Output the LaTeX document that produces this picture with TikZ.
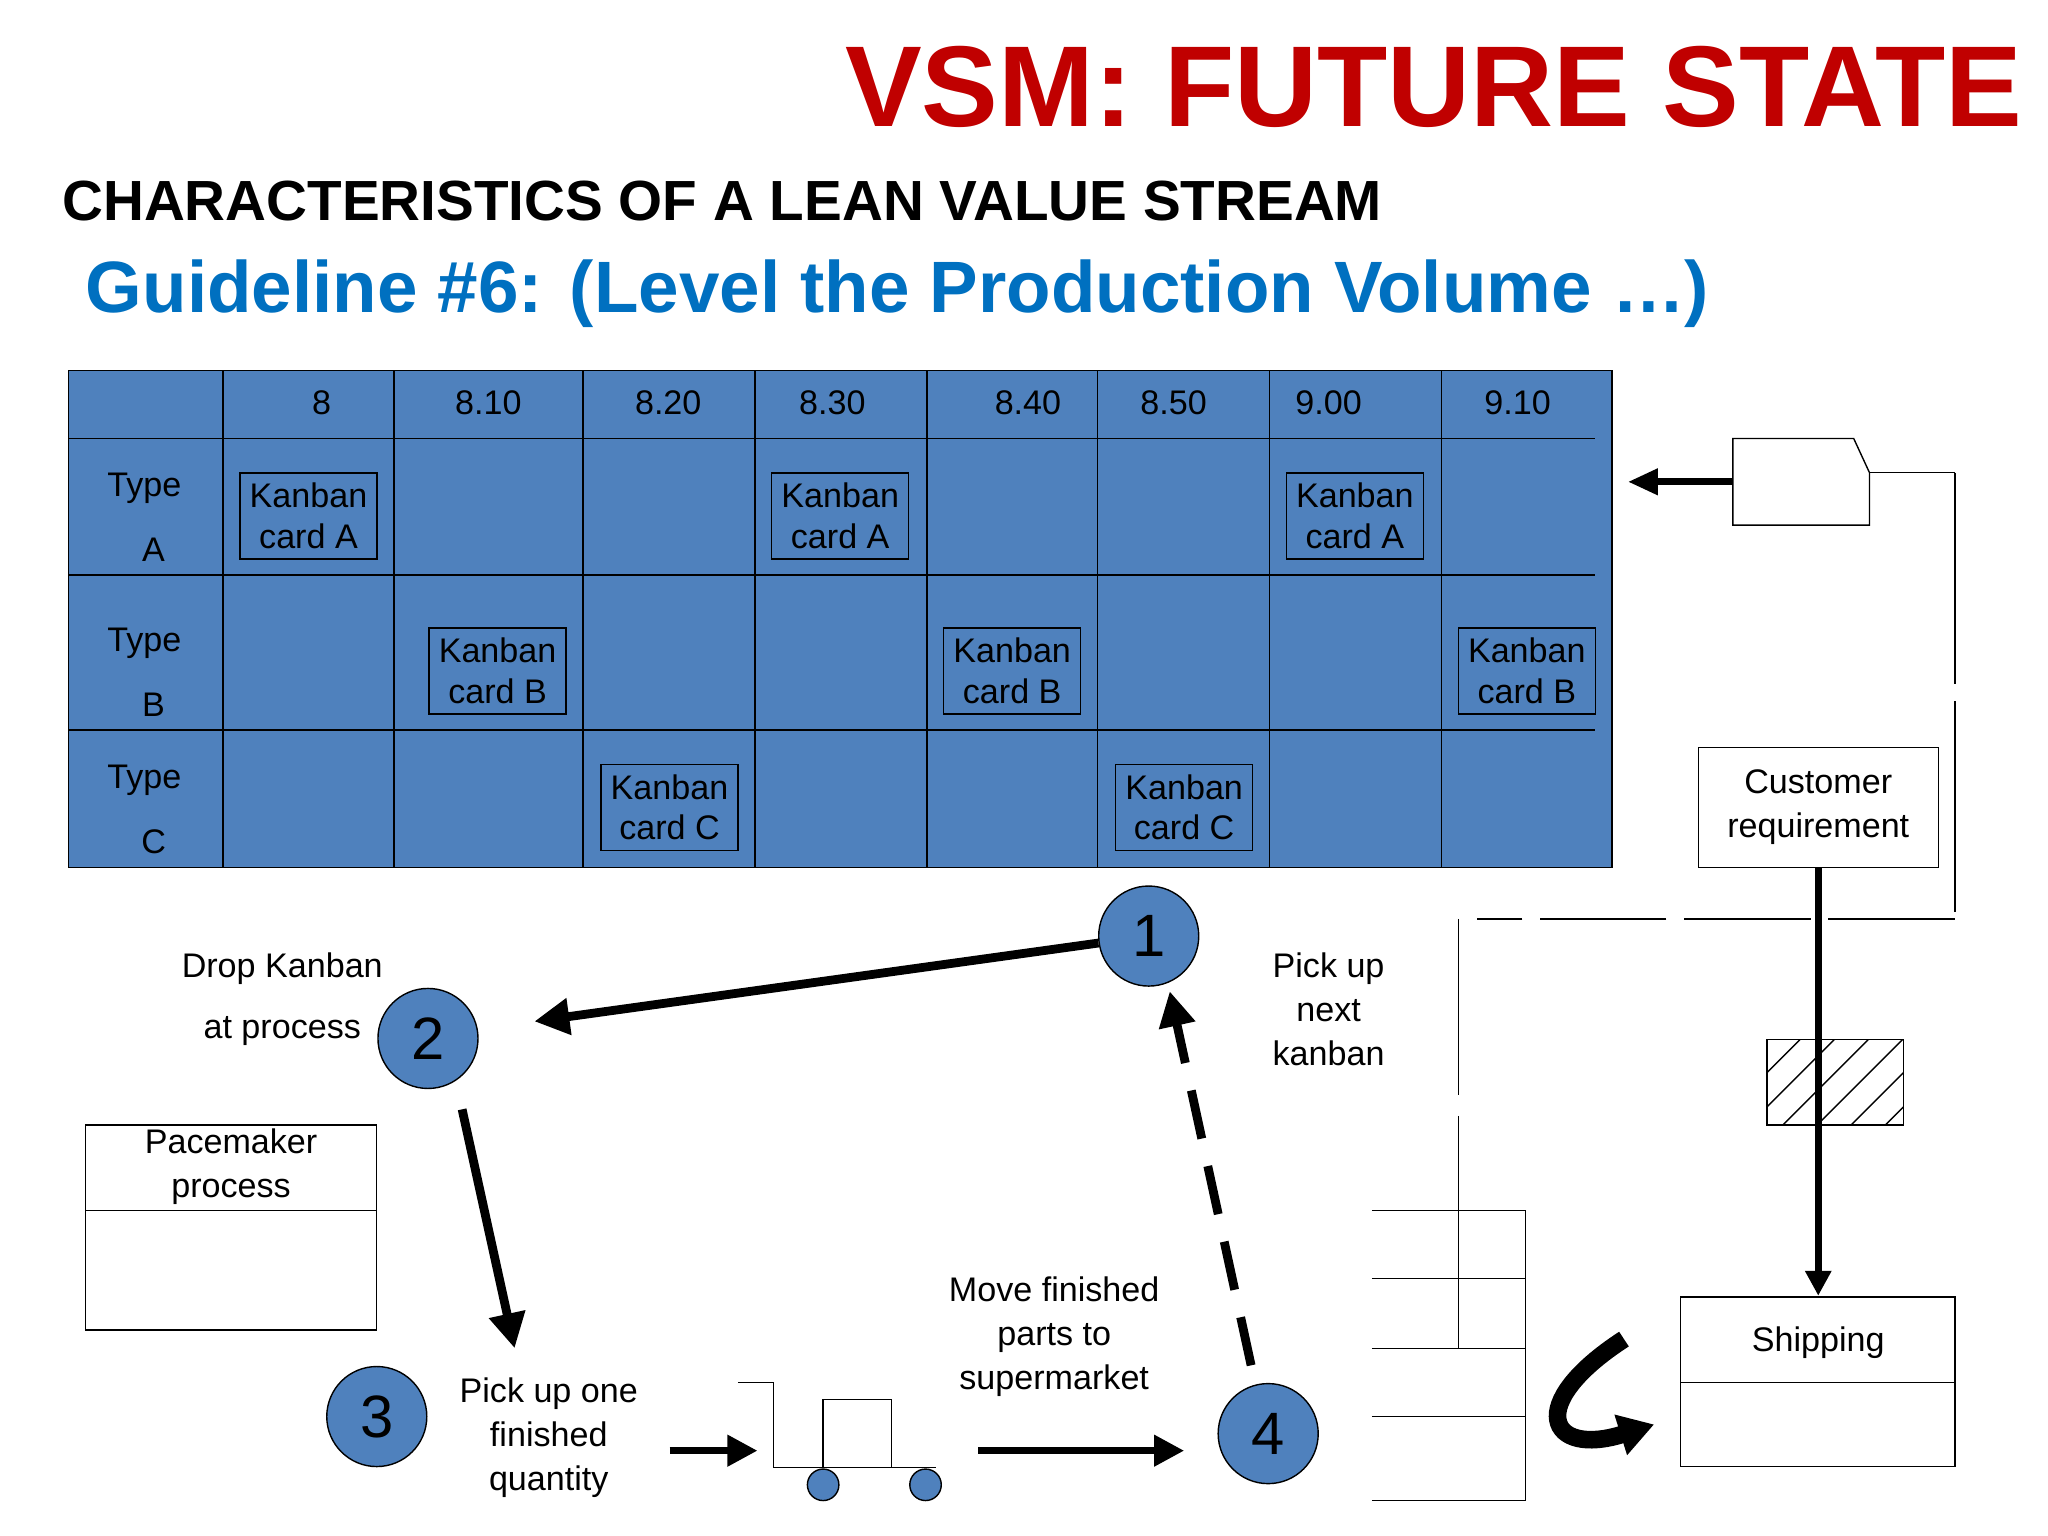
\documentclass[tikz,border=0pt]{standalone}
\usepackage{fontspec}
\setmainfont{Liberation Sans}
\usetikzlibrary{arrows.meta,positioning}
\definecolor{lblue}{HTML}{4F81BD}
\definecolor{vsmred}{HTML}{C00000}
\definecolor{gblue}{HTML}{0070C0}
\tikzset{
  stepnum/.style={draw=black, fill=lblue, circle, minimum size=1.0cm, inner sep=0pt, font=\fontsize{17}{17}\selectfont},
  card/.style={draw=black, minimum width=1.37cm, minimum height=0.86cm, align=center, inner sep=0pt, font=\fontsize{9.7}{11.5}\selectfont},
  txt/.style={align=center, font=\fontsize{9.7}{12.5}\selectfont},
  flow/.style={-{Triangle[length=0.35cm,width=0.35cm]}, line width=2.5pt},
}
\begin{document}
\begin{tikzpicture}[x=0.013128cm, y=-0.013128cm]
  \useasboundingbox (0,0) rectangle (1560,1170);
  % titles
  \node[anchor=east, text=vsmred, font=\fontsize{32.7}{33}\selectfont\bfseries] at (1550,66) {VSM: FUTURE STATE};
  \node[anchor=west, font=\fontsize{16.1}{17}\selectfont\bfseries] at (38,153) {CHARACTERISTICS OF A LEAN VALUE STREAM};
  \node[anchor=west, text=gblue, font=\fontsize{20.7}{21}\selectfont\bfseries] at (56,224) {Guideline \#6: (Level the Production Volume …)};
  % schedule board
  \fill[lblue] (52,282) rectangle (1228,661);
  \draw (52,282) rectangle (1228,661);
  \foreach \x in {170,300,444,575,706,836,967,1098} \draw (\x,282) -- (\x,661);
  \foreach \y in {334,438,556} \draw (52,\y) -- (1215,\y);
  \foreach \x/\t in {245/8,372/8.10,509/8.20,634/8.30,783/8.40,894/8.50,1012/9.00,1156/9.10}
    \node[txt] at (\x,307) {\t};
  \foreach \y/\t in {372/A,490/B,594/C} {
    \node[txt] at (110,\y) {Type};
    \node[txt] at (117,\y+47) {\t};
  }
  \foreach \x in {235,640,1032} \node[card] at (\x,393) {Kanban\\card A};
  \foreach \x in {379,771,1163} \node[card] at (\x,511) {Kanban\\card B};
  \foreach \x in {510,902} \node[card] at (\x,615) {Kanban\\card C};
  % kanban post
  \draw (1320,334) -- (1412,334) -- (1424,360) -- (1424,400) -- (1320,400) -- cycle;
  \coordinate (post) at (1320,367);
  \coordinate (board) at (1240,367);
  \draw[-{Triangle[length=0.3cm,width=0.25cm]}, line width=2pt] (post) -- (board);
  \draw (1424,360) -- (1489,360);
  \draw[dash pattern=on 60pt off 5pt] (1489,360) -- (1489,700);
  \draw[dash pattern=on 36pt off 5pt] (1489,700) -- (1125,700);
  \draw[dash pattern=on 50pt off 6pt] (1111,700) -- (1111,922);
  % customer and shipping
  \node[draw, txt, minimum width=2.4cm, minimum height=1.2cm, fill=white] (cust) at (1385,615) {Customer\\requirement};
  \draw[fill=white] (1346,792) rectangle (1450,857);
  \begin{scope}
    \clip (1346,792) rectangle (1450,857);
    \foreach \i in {0,...,7} \draw (1346+\i*26-40,857) -- (1346+\i*26+25,792);
  \end{scope}
  \draw (1280,988) rectangle (1489,1117);
  \draw (1280,1053) -- (1489,1053);
  \node[txt] (ship) at (1385,1023) {Shipping};
  \coordinate (shiptop) at (1385,987);
  \draw[-{Triangle[length=0.25cm,width=0.25cm]}, line width=2pt] (cust) -- (shiptop);
  % supermarket
  \draw (1162,922) -- (1162,1143);
  \foreach \y in {922,974,1027,1079,1143} \draw (1045,\y) -- (1162,\y);
  \draw (1111,922) -- (1111,1027);
  \draw[-{Triangle[length=0.35cm,width=0.4cm]}, line width=5pt] (1237,1020) .. controls (1160,1070) and (1180,1110) .. (1260,1085);
  % pacemaker
  \draw (65,857) rectangle (287,1013);
  \draw (65,922) -- (287,922);
  \node[txt] at (176,889) {Pacemaker\\process};
  % cart
  \draw (562,1053) -- (589,1053) -- (589,1118) -- (713,1118);
  \draw (627,1066) rectangle (679,1118);
  \draw[fill=lblue] (627,1131) circle (12) (705,1131) circle (12);
  % steps
  \node[stepnum] (s1) at (875,713) {1};
  \node[stepnum] (s2) at (326,791) {2};
  \node[stepnum] (s3) at (287,1079) {3};
  \node[stepnum] (s4) at (966,1092) {4};
  \coordinate (s2in) at (407,778);
  \coordinate (s2out) at (352,845);
  \coordinate (s3in) at (392,1027);
  \coordinate (s4out) at (953,1040);
  \coordinate (s1in) at (891,755);
  \draw[flow] (s1) -- (s2in);
  \draw[flow] (s2out) -- (s3in);
  \draw[flow, dash pattern=on 14pt off 8pt] (s4out) -- (s1in);
  \coordinate (c1a) at (510,1105); \coordinate (c1b) at (577,1105);
  \coordinate (c2a) at (745,1105); \coordinate (c2b) at (902,1105);
  \draw[line width=2pt, -{Triangle[length=0.3cm,width=0.3cm]}] (c1a) -- (c1b);
  \draw[line width=2pt, -{Triangle[length=0.3cm,width=0.3cm]}] (c2a) -- (c2b);
  % labels
  \node[txt] at (215,738) {Drop Kanban};
  \node[txt] at (215,785) {at process};
  \node[txt] at (418,1095) {Pick up one\\finished\\quantity};
  \node[txt] at (803,1018) {Move finished\\parts to\\supermarket};
  \node[txt] at (1012,769) {Pick up\\next\\kanban};
\end{tikzpicture}
\end{document}
